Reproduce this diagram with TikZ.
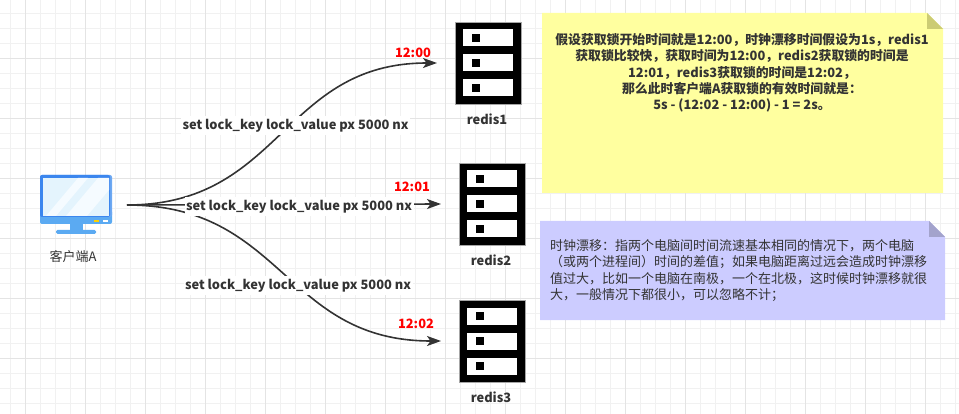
\documentclass[tikz,border=0pt]{standalone}
\usepackage{fontspec}
\setmainfont{Noto Sans CJK SC}
\usetikzlibrary{arrows.meta}
\definecolor{gridminor}{HTML}{F1F1F1}
\definecolor{gridmajor}{HTML}{E4E4E4}
\definecolor{inkgray}{HTML}{333333}
\definecolor{noteyellow}{HTML}{FFFF9F}
\definecolor{foldyellow}{HTML}{CCCC74}
\definecolor{notepurple}{HTML}{CCCCFF}
\definecolor{foldpurple}{HTML}{A3A3CC}
\definecolor{monframe}{HTML}{3B86EE}
\definecolor{monedge}{HTML}{6EA9F2}
\definecolor{monbase}{HTML}{5BAAF2}
\definecolor{monglass}{HTML}{E4F4FD}
\definecolor{monshine}{HTML}{F5FBFF}
\tikzset{
  basetext/.style={text=inkgray,inner sep=0pt,font=\fontsize{13}{16.2}\selectfont},
  boldtext/.style={basetext,font=\fontsize{12.85}{16.2}\selectfont\bfseries},
  cmdlabel/.style={boldtext,fill=white,inner xsep=1.5pt,minimum height=19pt},
  timelabel/.style={boldtext,text=red},
  redisbox/.style={fill=black,draw=gray!70,line width=0.5pt,minimum width=66pt,minimum height=82pt,inner sep=0pt},
  slotbox/.style={fill=white,minimum width=50pt,minimum height=17pt,inner sep=0pt},
  slotdot/.style={fill=black,minimum size=8pt,inner sep=0pt},
  link/.style={draw=inkgray,line width=1.6pt,-{Stealth[length=14pt,width=10pt,inset=3.5pt]}}
}
\begin{document}
\begin{tikzpicture}[x=1pt,y=-1pt]
  \useasboundingbox (0,0) rectangle (959,414);
  % grid
  \foreach \x in {10,25,...,955}
    \draw[gridminor,line width=1pt] (\x.5,0) -- (\x.5,414);
  \foreach \y in {13,28,...,410}
    \draw[gridminor,line width=1pt] (0,\y.5) -- (959,\y.5);
  \foreach \x in {25,85,...,955}
    \draw[gridmajor,line width=1pt] (\x.5,0) -- (\x.5,414);
  \foreach \y in {58,118,...,410}
    \draw[gridmajor,line width=1pt] (0,\y.5) -- (959,\y.5);
  % client
  \fill[monbase,rounded corners=1.5pt] (56,230) rectangle (96,234);
  \fill[monbase] (70,224) rectangle (83,230);
  \fill[monbase,rounded corners=2pt] (40,210) rectangle (112,224);
  \fill[monedge,rounded corners=2pt] (40,175) rectangle (112,217);
  \fill[monframe,rounded corners=2pt] (40,175) rectangle (110,217);
  \fill[monglass] (43,178) rectangle (109,216);
  \fill[monshine] (46,216) -- (78,178) -- (88,178) -- (56,216) -- cycle;
  \fill[monshine] (66,216) -- (98,178) -- (109,178) -- (109,190) -- (87,216) -- cycle;
  \fill[yellow!70!orange] (94,220) rectangle (99,222);
  \fill[white] (103,220) rectangle (108,222);
  \node[basetext] (clientlabel) at (73,256.5) {客户端A};
  \coordinate (clientout) at (127,205);
  % servers
  \foreach \name/\x/\y in {redis1/488/63,redis2/492/204,redis3/492/341} {
    \node[redisbox] (\name) at (\x,\y) {};
    \foreach \dy/\i in {-25/a,0/b,25/c} {
      \node[slotbox] (\name-slot\i) at ([yshift=-\dy pt]\name.center) {};
      \node[slotdot] (\name-dot\i) at ([xshift=-12pt,yshift=-\dy pt]\name.center) {};
    }
    \coordinate (\name-in) at (\x-51,\y);
  }
  \node[boldtext] (redis1label) at (487,119) {redis1};
  \node[boldtext] (redis2label) at (491,260) {redis2};
  \node[boldtext] (redis3label) at (491,397) {redis3};
  % links
  \begin{scope}[link]
    \draw (clientout) .. controls (282,205) and (282,63) .. (redis1-in);
    \draw (clientout) to (redis2-in);
    \draw (clientout) .. controls (284,205) and (284,341) .. (redis3-in);
  \end{scope}
  \node[cmdlabel] (cmd1) at (295.5,125.5) {set lock\_key lock\_value px 5000 nx};
  \node[cmdlabel] (cmd2) at (299,206.5) {set lock\_key lock\_value px 5000 nx};
  \node[cmdlabel] (cmd3) at (298,285.5) {set lock\_key lock\_value px 5000 nx};
  \node[timelabel] (time1) at (413,53) {12:00};
  \node[timelabel] (time2) at (412,187) {12:01};
  \node[timelabel] (time3) at (416,324) {12:02};
  % notes
  \fill[noteyellow] (542,13) -- (927,13) -- (943,29) -- (943,193) -- (542,193) -- cycle;
  \fill[foldyellow] (927,13) -- (943,29) -- (927,29) -- cycle;
  \node[boldtext,align=center] (note1) at (742,73) {假设获取锁开始时间就是12:00，时钟漂移时间假设为1s，redis1\\
    获取锁比较快，获取时间为12:00，redis2获取锁的时间是\\
    12:01，redis3获取锁的时间是12:02，\\
    那么此时客户端A获取锁的有效时间就是：\\
    5s - (12:02 - 12:00) - 1 = 2s。};
  \fill[notepurple] (540,221) -- (929,221) -- (945,237) -- (945,320) -- (540,320) -- cycle;
  \fill[foldpurple] (929,221) -- (945,237) -- (929,237) -- cycle;
  \node[basetext,align=left,anchor=west] (note2) at (550,270.5) {时钟漂移：指两个电脑间时间流速基本相同的情况下，两个电脑\\
    （或两个进程间）时间的差值；如果电脑距离过远会造成时钟漂移\\
    值过大，比如一个电脑在南极，一个在北极，这时候时钟漂移就很\\
    大，一般情况下都很小，可以忽略不计；};
\end{tikzpicture}
\end{document}
